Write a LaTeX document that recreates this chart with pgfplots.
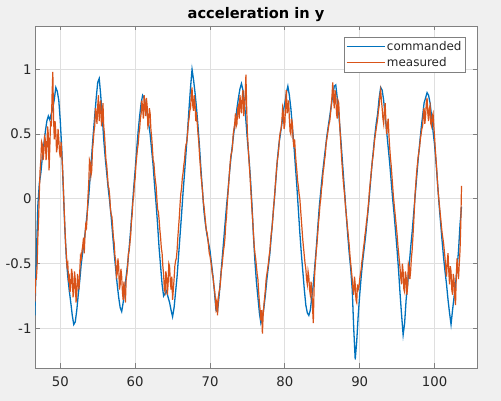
\documentclass[border=0pt]{standalone}
\usepackage{pgfplots}
\pgfplotsset{compat=1.18}
\usepackage{pgfplotstable}
\usepackage{fontspec}
\setmainfont{DejaVu Sans}
\definecolor{mblue}{RGB}{0,114,189}
\definecolor{morange}{RGB}{217,83,25}
\definecolor{figbg}{RGB}{240,240,240}
\definecolor{axgray}{RGB}{128,128,128}
\definecolor{gridgray}{RGB}{223,223,223}
\definecolor{lblcol}{RGB}{38,38,38}
% commanded
\pgfplotstableread{
x c
46.6 -0.90
46.8 -0.45
47.0 -0.05
47.2 0.12
47.4 0.20
47.6 0.32
47.8 0.42
48.0 0.52
48.2 0.60
48.4 0.64
48.6 0.61
48.8 0.66
49.0 0.70
49.2 0.77
49.4 0.86
49.6 0.83
49.8 0.76
50.0 0.60
50.2 0.38
50.4 0.08
50.6 -0.22
50.8 -0.45
51.0 -0.60
51.2 -0.71
51.4 -0.80
51.6 -0.90
51.8 -0.97
52.0 -0.95
52.2 -0.86
52.4 -0.74
52.6 -0.63
52.8 -0.50
53.0 -0.41
53.2 -0.32
53.4 -0.22
53.6 -0.10
53.8 0.02
54.0 0.18
54.2 0.34
54.4 0.50
54.6 0.64
54.8 0.78
55.0 0.90
55.2 0.93
55.4 0.80
55.6 0.64
55.8 0.46
56.0 0.32
56.2 0.20
56.4 0.08
56.6 -0.02
56.8 -0.14
57.0 -0.28
57.2 -0.42
57.4 -0.54
57.6 -0.66
57.8 -0.76
58.0 -0.84
58.2 -0.87
58.4 -0.80
58.6 -0.70
58.8 -0.60
59.0 -0.50
59.2 -0.38
59.4 -0.24
59.6 -0.08
59.8 0.08
60.0 0.22
60.2 0.38
60.4 0.52
60.6 0.64
60.8 0.74
61.0 0.80
61.2 0.78
61.4 0.72
61.6 0.66
61.8 0.58
62.0 0.50
62.2 0.38
62.4 0.26
62.6 0.10
62.8 -0.04
63.0 -0.20
63.2 -0.38
63.4 -0.52
63.6 -0.66
63.8 -0.75
64.0 -0.73
64.2 -0.71
64.4 -0.76
64.6 -0.80
64.8 -0.86
65.0 -0.91
65.2 -0.84
65.4 -0.72
65.6 -0.60
65.8 -0.44
66.0 -0.28
66.2 -0.12
66.4 0.05
66.6 0.20
66.8 0.36
67.0 0.52
67.2 0.70
67.4 0.86
67.6 1.00
67.8 0.92
68.0 0.82
68.2 0.70
68.4 0.56
68.6 0.40
68.8 0.22
69.0 0.06
69.2 -0.10
69.4 -0.20
69.6 -0.28
69.8 -0.34
70.0 -0.40
70.2 -0.50
70.4 -0.60
70.6 -0.72
70.8 -0.86
71.0 -0.87
71.2 -0.76
71.4 -0.62
71.6 -0.48
71.8 -0.34
72.0 -0.20
72.2 -0.06
72.4 0.06
72.6 0.20
72.8 0.32
73.0 0.42
73.2 0.52
73.4 0.60
73.6 0.70
73.8 0.78
74.0 0.85
74.2 0.89
74.4 0.84
74.6 0.75
74.8 0.60
75.0 0.45
75.2 0.32
75.4 0.16
75.6 -0.04
75.8 -0.28
76.0 -0.48
76.2 -0.64
76.4 -0.76
76.6 -0.88
76.8 -0.96
77.0 -0.92
77.2 -0.84
77.4 -0.74
77.6 -0.62
77.8 -0.52
78.0 -0.42
78.2 -0.28
78.4 -0.14
78.6 0.00
78.8 0.15
79.0 0.30
79.2 0.42
79.4 0.50
79.6 0.58
79.8 0.68
80.0 0.74
80.2 0.82
80.4 0.87
80.6 0.80
80.8 0.70
81.0 0.56
81.2 0.42
81.4 0.26
81.6 0.10
81.8 -0.08
82.0 -0.26
82.2 -0.42
82.4 -0.56
82.6 -0.70
82.8 -0.82
83.0 -0.88
83.2 -0.90
83.4 -0.86
83.6 -0.76
83.8 -0.66
84.0 -0.52
84.2 -0.38
84.4 -0.22
84.6 -0.06
84.8 0.06
85.0 0.18
85.2 0.28
85.4 0.38
85.6 0.48
85.8 0.56
86.0 0.64
86.2 0.72
86.4 0.80
86.6 0.87
86.8 0.88
87.0 0.78
87.2 0.66
87.4 0.52
87.6 0.36
87.8 0.20
88.0 0.04
88.2 -0.12
88.4 -0.28
88.6 -0.42
88.8 -0.54
89.0 -0.70
89.2 -1.00
89.4 -1.24
89.6 -1.10
89.8 -0.90
90.0 -0.74
90.2 -0.60
90.4 -0.48
90.6 -0.38
90.8 -0.28
91.0 -0.16
91.2 -0.04
91.4 0.10
91.6 0.24
91.8 0.36
92.0 0.48
92.2 0.58
92.4 0.66
92.6 0.78
92.8 0.86
93.0 0.84
93.2 0.76
93.4 0.64
93.6 0.52
93.8 0.40
94.0 0.28
94.2 0.14
94.4 0.00
94.6 -0.12
94.8 -0.26
95.0 -0.40
95.2 -0.56
95.4 -0.74
95.6 -0.90
95.8 -1.05
96.0 -0.96
96.2 -0.78
96.4 -0.66
96.6 -0.52
96.8 -0.38
97.0 -0.26
97.2 -0.12
97.4 0.02
97.6 0.16
97.8 0.30
98.0 0.42
98.2 0.54
98.4 0.64
98.6 0.74
98.8 0.78
99.0 0.82
99.2 0.80
99.4 0.74
99.6 0.64
99.8 0.52
100.0 0.42
100.2 0.28
100.4 0.12
100.6 -0.04
100.8 -0.18
101.0 -0.32
101.2 -0.45
101.4 -0.56
101.6 -0.66
101.8 -0.78
102.0 -0.88
102.2 -0.97
102.4 -0.86
102.6 -0.76
102.8 -0.66
103.0 -0.54
103.2 -0.40
103.4 -0.20
103.6 -0.06
}\cmddata
% measured
\pgfplotstableread{
x m
46.6 -0.80
46.7 -0.62
46.8 -0.62
46.9 -0.52
47.0 -0.30
47.1 -0.16
47.2 0.05
47.3 0.22
47.4 0.30
47.5 0.44
47.6 0.42
47.7 0.30
47.8 0.36
47.9 0.48
48.0 0.46
48.1 0.30
48.2 0.38
48.3 0.56
48.4 0.50
48.5 0.22
48.6 0.40
48.7 0.60
48.8 0.56
48.9 0.80
49.0 0.98
49.1 0.62
49.2 0.46
49.3 0.60
49.4 0.52
49.5 0.36
49.6 0.40
49.7 0.54
49.8 0.46
49.9 0.36
50.0 0.32
50.1 0.44
50.2 0.34
50.3 0.24
50.4 0.10
50.5 -0.06
50.6 -0.20
50.7 -0.34
50.8 -0.42
50.9 -0.52
51.0 -0.50
51.1 -0.62
51.2 -0.60
51.3 -0.72
51.4 -0.68
51.5 -0.54
51.6 -0.58
51.7 -0.76
51.8 -0.72
51.9 -0.56
52.0 -0.62
52.1 -0.80
52.2 -0.74
52.3 -0.58
52.4 -0.66
52.5 -0.70
52.6 -0.56
52.7 -0.44
52.8 -0.46
52.9 -0.40
53.0 -0.36
53.1 -0.30
53.2 -0.42
53.3 -0.28
53.4 -0.20
53.5 -0.22
53.6 -0.12
53.7 0.02
53.8 0.12
53.9 0.30
54.0 0.28
54.1 0.18
54.2 0.22
54.3 0.38
54.4 0.44
54.5 0.52
54.6 0.56
54.7 0.70
54.8 0.66
54.9 0.58
55.0 0.72
55.1 0.80
55.2 0.60
55.3 0.70
55.4 0.76
55.5 0.56
55.6 0.62
55.7 0.74
55.8 0.56
55.9 0.50
56.0 0.40
56.1 0.30
56.2 0.26
56.3 0.18
56.4 0.10
56.5 0.08
56.6 0.02
56.7 -0.08
56.8 -0.12
56.9 -0.14
57.0 -0.22
57.1 -0.30
57.2 -0.34
57.3 -0.44
57.4 -0.48
57.5 -0.60
57.6 -0.58
57.7 -0.46
57.8 -0.52
57.9 -0.70
58.0 -0.66
58.1 -0.54
58.2 -0.60
58.3 -0.72
58.4 -0.78
58.5 -0.64
58.6 -0.72
58.7 -0.80
58.8 -0.62
58.9 -0.58
59.0 -0.52
59.1 -0.42
59.2 -0.40
59.3 -0.34
59.4 -0.28
59.5 -0.18
59.6 -0.12
59.7 -0.02
59.8 0.02
59.9 0.12
60.0 0.16
60.1 0.26
60.2 0.32
60.3 0.38
60.4 0.42
60.5 0.50
60.6 0.54
60.7 0.62
60.8 0.66
60.9 0.76
61.0 0.70
61.1 0.62
61.2 0.80
61.3 0.72
61.4 0.64
61.5 0.78
61.6 0.72
61.7 0.56
61.8 0.58
61.9 0.70
62.0 0.66
62.1 0.54
62.2 0.48
62.3 0.40
62.4 0.30
62.5 0.28
62.6 0.20
62.7 0.14
62.8 0.10
62.9 0.00
63.0 -0.08
63.1 -0.10
63.2 -0.16
63.3 -0.24
63.4 -0.30
63.5 -0.38
63.6 -0.42
63.7 -0.52
63.8 -0.58
63.9 -0.70
64.0 -0.72
64.1 -0.56
64.2 -0.60
64.3 -0.74
64.4 -0.66
64.5 -0.50
64.6 -0.52
64.7 -0.64
64.8 -0.70
64.9 -0.60
65.0 -0.78
65.1 -0.70
65.2 -0.62
65.3 -0.52
65.4 -0.48
65.5 -0.46
65.6 -0.40
65.7 -0.30
65.8 -0.22
65.9 -0.14
66.0 -0.04
66.1 0.04
66.2 0.08
66.3 0.16
66.4 0.20
66.5 0.26
66.6 0.30
66.7 0.38
66.8 0.42
66.9 0.44
67.0 0.50
67.1 0.58
67.2 0.62
67.3 0.68
67.4 0.70
67.5 0.80
67.6 0.86
67.7 0.72
67.8 0.68
67.9 0.80
68.0 0.74
68.1 0.60
68.2 0.64
68.3 0.58
68.4 0.50
68.5 0.44
68.6 0.34
68.7 0.26
68.8 0.18
68.9 0.12
69.0 0.06
69.1 -0.02
69.2 -0.06
69.3 -0.12
69.4 -0.18
69.5 -0.24
69.6 -0.26
69.7 -0.30
69.8 -0.36
69.9 -0.42
70.0 -0.44
70.1 -0.48
70.2 -0.52
70.3 -0.58
70.4 -0.60
70.5 -0.66
70.6 -0.70
70.7 -0.76
70.8 -0.84
70.9 -0.80
71.0 -0.90
71.1 -0.78
71.2 -0.72
71.3 -0.70
71.4 -0.64
71.5 -0.56
71.6 -0.52
71.7 -0.46
71.8 -0.40
71.9 -0.36
72.0 -0.30
72.1 -0.20
72.2 -0.14
72.3 -0.04
72.4 0.04
72.5 0.12
72.6 0.20
72.7 0.28
72.8 0.34
72.9 0.36
73.0 0.40
73.1 0.50
73.2 0.54
73.3 0.58
73.4 0.66
73.5 0.56
73.6 0.58
73.7 0.70
73.8 0.72
73.9 0.62
74.0 0.80
74.1 0.74
74.2 0.66
74.3 0.78
74.4 0.84
74.5 0.64
74.6 0.70
74.7 0.80
74.8 0.96
74.9 0.70
75.0 0.50
75.1 0.40
75.2 0.30
75.3 0.22
75.4 0.12
75.5 0.02
75.6 -0.08
75.7 -0.16
75.8 -0.26
75.9 -0.36
76.0 -0.42
76.1 -0.46
76.2 -0.52
76.3 -0.58
76.4 -0.62
76.5 -0.72
76.6 -0.80
76.7 -0.86
76.8 -0.94
76.9 -0.86
77.0 -1.04
77.1 -0.90
77.2 -0.82
77.3 -0.76
77.4 -0.70
77.5 -0.62
77.6 -0.58
77.7 -0.54
77.8 -0.50
77.9 -0.44
78.0 -0.40
78.1 -0.32
78.2 -0.26
78.3 -0.22
78.4 -0.14
78.5 -0.06
78.6 0.00
78.7 0.08
78.8 0.16
78.9 0.24
79.0 0.30
79.1 0.34
79.2 0.40
79.3 0.48
79.4 0.52
79.5 0.54
79.6 0.60
79.7 0.70
79.8 0.66
79.9 0.54
80.0 0.58
80.1 0.74
80.2 0.84
80.3 0.66
80.4 0.70
80.5 0.76
80.6 0.62
80.7 0.52
80.8 0.50
80.9 0.62
81.0 0.58
81.1 0.46
81.2 0.40
81.3 0.46
81.4 0.36
81.5 0.28
81.6 0.22
81.7 0.14
81.8 0.10
81.9 0.04
82.0 0.00
82.1 -0.08
82.2 -0.16
82.3 -0.24
82.4 -0.32
82.5 -0.38
82.6 -0.44
82.7 -0.50
82.8 -0.54
82.9 -0.62
83.0 -0.66
83.1 -0.56
83.2 -0.60
83.3 -0.70
83.4 -0.74
83.5 -0.64
83.6 -0.70
83.7 -0.84
83.8 -0.96
83.9 -0.70
84.0 -0.56
84.1 -0.48
84.2 -0.40
84.3 -0.34
84.4 -0.26
84.5 -0.18
84.6 -0.12
84.7 -0.04
84.8 0.00
84.9 0.08
85.0 0.12
85.1 0.20
85.2 0.24
85.3 0.30
85.4 0.34
85.5 0.42
85.6 0.46
85.7 0.50
85.8 0.54
85.9 0.58
86.0 0.60
86.1 0.66
86.2 0.72
86.3 0.80
86.4 0.90
86.5 0.78
86.6 0.70
86.7 0.84
86.8 0.80
86.9 0.66
87.0 0.62
87.1 0.76
87.2 0.74
87.3 0.60
87.4 0.50
87.5 0.40
87.6 0.30
87.7 0.22
87.8 0.14
87.9 0.08
88.0 0.02
88.1 -0.06
88.2 -0.12
88.3 -0.18
88.4 -0.24
88.5 -0.30
88.6 -0.36
88.7 -0.44
88.8 -0.50
88.9 -0.56
89.0 -0.62
89.1 -0.70
89.2 -0.74
89.3 -0.60
89.4 -0.66
89.5 -0.78
89.6 -0.80
89.7 -0.66
89.8 -0.70
89.9 -0.68
90.0 -0.62
90.1 -0.58
90.2 -0.54
90.3 -0.48
90.4 -0.44
90.5 -0.38
90.6 -0.34
90.7 -0.28
90.8 -0.24
90.9 -0.18
91.0 -0.14
91.1 -0.08
91.2 -0.02
91.3 0.06
91.4 0.12
91.5 0.18
91.6 0.24
91.7 0.30
91.8 0.34
91.9 0.40
92.0 0.46
92.1 0.50
92.2 0.54
92.3 0.58
92.4 0.62
92.5 0.68
92.6 0.72
92.7 0.80
92.8 0.84
92.9 0.76
93.0 0.70
93.1 0.62
93.2 0.58
93.3 0.68
93.4 0.74
93.5 0.60
93.6 0.50
93.7 0.56
93.8 0.62
93.9 0.50
94.0 0.40
94.1 0.32
94.2 0.26
94.3 0.18
94.4 0.10
94.5 0.02
94.6 -0.04
94.7 -0.10
94.8 -0.16
94.9 -0.22
95.0 -0.28
95.1 -0.36
95.2 -0.42
95.3 -0.48
95.4 -0.54
95.5 -0.62
95.6 -0.66
95.7 -0.50
95.8 -0.56
95.9 -0.70
96.0 -0.72
96.1 -0.56
96.2 -0.60
96.3 -0.74
96.4 -0.68
96.5 -0.50
96.6 -0.52
96.7 -0.62
96.8 -0.56
96.9 -0.46
97.0 -0.40
97.1 -0.30
97.2 -0.20
97.3 -0.08
97.4 0.04
97.5 0.12
97.6 0.20
97.7 0.26
97.8 0.32
97.9 0.36
98.0 0.40
98.1 0.46
98.2 0.50
98.3 0.54
98.4 0.56
98.5 0.66
98.6 0.70
98.7 0.58
98.8 0.64
98.9 0.74
99.0 0.78
99.1 0.66
99.2 0.60
99.3 0.70
99.4 0.72
99.5 0.58
99.6 0.56
99.7 0.64
99.8 0.66
99.9 0.56
100.0 0.48
100.1 0.38
100.2 0.30
100.3 0.22
100.4 0.12
100.5 0.04
100.6 -0.02
100.7 -0.08
100.8 -0.14
100.9 -0.20
101.0 -0.26
101.1 -0.30
101.2 -0.34
101.3 -0.40
101.4 -0.46
101.5 -0.54
101.6 -0.60
101.7 -0.48
101.8 -0.42
101.9 -0.56
102.0 -0.66
102.1 -0.52
102.2 -0.56
102.3 -0.70
102.4 -0.74
102.5 -0.58
102.6 -0.62
102.7 -0.76
102.8 -0.82
102.9 -0.60
103.0 -0.46
103.1 -0.54
103.2 -0.62
103.3 -0.50
103.4 -0.40
103.5 -0.20
103.6 0.10
}\measdata
\begin{document}
\begin{tikzpicture}
\fill[figbg] (0bp,0bp) rectangle (501bp,401bp);
\useasboundingbox (0bp,0bp) rectangle (501bp,401bp);
\begin{axis}[
  at={(35bp,33bp)}, anchor=south west,
  width=442bp, height=342bp, scale only axis,
  xmin=46.62, xmax=105.67, ymin=-1.306, ymax=1.335,
  axis background/.style={fill=white},
  xtick={50,60,70,80,90,100},
  xticklabels={50,60,70,80,90,100},
  ytick={-1,-0.5,0,0.5,1},
  yticklabels={-1,-0.5,0,0.5,1},
  grid=major,
  major grid style={line width=0.8bp, draw=gridgray},
  axis line style={draw=axgray, line width=0.9bp},
  tick style={draw=axgray, line width=0.8bp},
  major tick length=4.5bp,
  tick align=inside,
  ticklabel style={font=\fontsize{13.33}{16}\selectfont, text=lblcol},
  xticklabel style={yshift=-5bp},
  title={acceleration in y},
  title style={font=\fontsize{14.67}{17}\selectfont\bfseries, yshift=-5bp},
  legend style={at={(0.975,0.969)}, anchor=north east, draw=axgray, line width=0.8bp,
    fill=white, font=\fontsize{12}{14}\selectfont, text=lblcol, inner xsep=2bp, inner ysep=2bp,
    row sep=2bp, cells={anchor=west}},
  legend cell align=left,
  legend image code/.code={\draw[#1, line width=0.9bp] (0bp,0bp) -- (38bp,0bp);},
]
\addplot[draw=mblue, line width=1.3bp] table[x=x, y=c] {\cmddata};
\addlegendentry{commanded}
\addplot[draw=morange, line width=1.2bp] table[x=x, y=m] {\measdata};
\addlegendentry{measured}
\end{axis}
\end{tikzpicture}
\end{document}
